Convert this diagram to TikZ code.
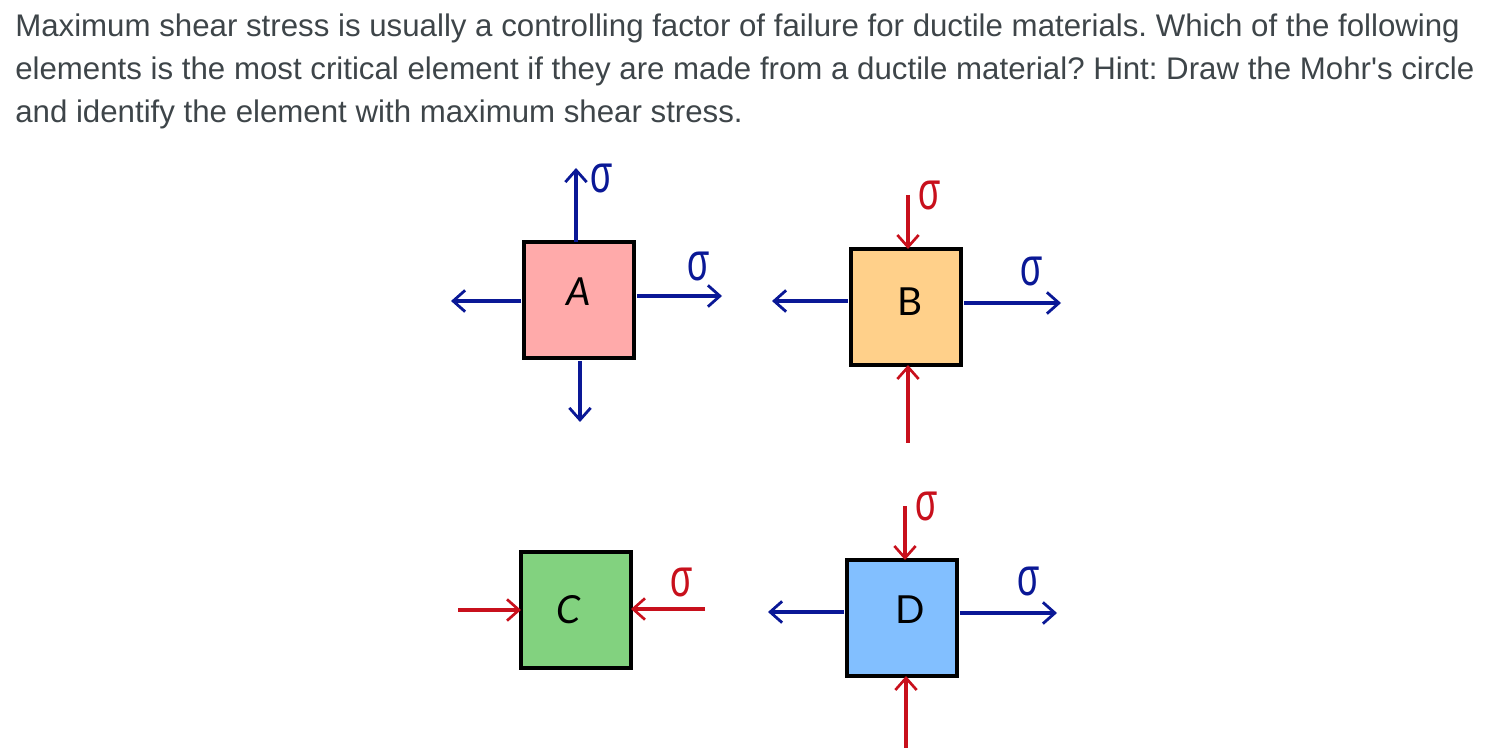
\documentclass[tikz,border=0pt]{standalone}
\usepackage{fontspec}
\usepackage{xcolor}
\setmainfont{Liberation Sans}
\newfontfamily\questfont{Liberation Sans}
\newfontfamily\handfont{Lato}
\usetikzlibrary{arrows.meta}
\definecolor{textgrey}{RGB}{62,69,73}
\definecolor{pullblue}{RGB}{10,24,150}
\definecolor{pushred}{RGB}{200,16,28}
\definecolor{fillA}{RGB}{255,170,170}
\definecolor{fillB}{RGB}{255,208,138}
\definecolor{fillC}{RGB}{130,210,127}
\definecolor{fillD}{RGB}{130,191,255}
\tikzset{
  qline/.style={anchor=base west,inner sep=0pt,text=textgrey,font=\questfont\frenchspacing\fontsize{23.43pt}{28pt}\selectfont},
  element/.style={draw=black,line width=2.3pt,minimum width=82.5pt,minimum height=87pt,inner sep=0pt,outer sep=0pt},
  boxname/.style={inner sep=0pt,font=\handfont\fontsize{29pt}{32pt}\selectfont},
  pullarrow/.style={draw=pullblue,line width=2.4pt,-{Straight Barb[length=9pt,width=16pt,line width=2.1pt]}},
  pusharrow/.style={draw=pushred,line width=2.3pt,-{Straight Barb[length=9pt,width=16pt,line width=2pt]}},
  gapstart/.style={shorten <=2.2pt},
  siglabel/.style={inner sep=0pt,font=\fontsize{30pt}{32pt}\selectfont},
}
\newcommand{\tallsig}{\scalebox{0.9}[1.35]{σ}}
\begin{document}
\begin{tikzpicture}[x=0.75pt,y=0.75pt,yscale=-1,xscale=1]
\useasboundingbox (0,0) rectangle (1496,748);

\node [qline] (line1) at (15,37) {Maximum shear stress is usually a controlling factor of failure for ductile materials. Which of the following};
\node [qline] (line2) at (15,80) {elements is the most critical element if they are made from a ductile material? Hint: Draw the Mohr's circle};
\node [qline] (line3) at (15,123) {and identify the element with maximum shear stress.};

% elements
\node [element,fill=fillA] (boxA) at (579,300) {};
\node [element,fill=fillB] (boxB) at (906,307) {};
\node [element,fill=fillC] (boxC) at (576,610) {};
\node [element,fill=fillD] (boxD) at (902,618) {};

\node [boxname] (nameA) at (579,292) {\itshape A};
\node [boxname] (nameB) at (910,302) {B};
\node [boxname] (nameC) at (569,610) {\itshape C};
\node [boxname] (nameD) at (910,610) {D};

% free ends of the arrows
\coordinate (Atop) at (576,168);
\coordinate (Aright) at (722,296);
\coordinate (Aleft) at (451,301);
\coordinate (Abot) at (580,422);
\coordinate (Btop) at (908,195);
\coordinate (Bright) at (1061,303);
\coordinate (Bleft) at (772,301);
\coordinate (Bbot) at (908,443);
\coordinate (Cleft) at (458,610);
\coordinate (Cright) at (705,609);
\coordinate (Dtop) at (905,506);
\coordinate (Dright) at (1057,613);
\coordinate (Dleft) at (768,612);
\coordinate (Dbot) at (906,748);

\draw [pullarrow] (Atop |- boxA.north) -- (Atop);
\draw [pullarrow,gapstart] (Aright -| boxA.east) -- (Aright);
\draw [pullarrow,gapstart] (Aleft -| boxA.west) -- (Aleft);
\draw [pullarrow,gapstart] (Abot |- boxA.south) -- (Abot);

\draw [pusharrow] (Btop) -- (Btop |- boxB.north);
\draw [pusharrow] (Bbot) -- (Bbot |- boxB.south);
\draw [pullarrow,gapstart] (Bright -| boxB.east) -- (Bright);
\draw [pullarrow,gapstart] (Bleft -| boxB.west) -- (Bleft);

\draw [pusharrow] (Cleft) -- (Cleft -| boxC.west);
\draw [pusharrow] (Cright) -- (Cright -| boxC.east);

\draw [pusharrow] (Dtop) -- (Dtop |- boxD.north);
\draw [pusharrow] (Dbot) -- (Dbot |- boxD.south);
\draw [pullarrow,gapstart] (Dright -| boxD.east) -- (Dright);
\draw [pullarrow,gapstart] (Dleft -| boxD.west) -- (Dleft);

% stress labels
\node [siglabel,text=pullblue] (sigA1) at (602,179) {\tallsig};
\node [siglabel,text=pullblue] (sigA2) at (699,267) {\tallsig};
\node [siglabel,text=pushred] (sigB1) at (930,196) {\tallsig};
\node [siglabel,text=pullblue] (sigB2) at (1032,272) {\tallsig};
\node [siglabel,text=pushred] (sigC) at (682,582) {\tallsig};
\node [siglabel,text=pushred] (sigD1) at (927,506) {\tallsig};
\node [siglabel,text=pullblue] (sigD2) at (1029,581) {\tallsig};
\end{tikzpicture}
\end{document}
